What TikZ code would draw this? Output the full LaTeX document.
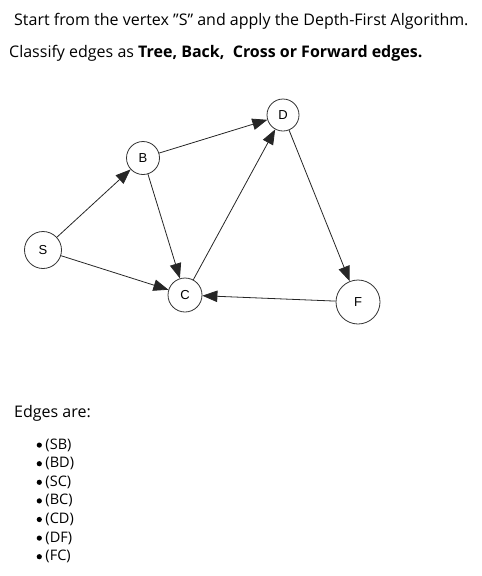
\documentclass[tikz,border=0pt]{standalone}
\usepackage{fontspec}
\setmainfont{Open Sans}
\newfontfamily\vxfont{Liberation Sans}
\usetikzlibrary{arrows.meta,positioning}
\tikzset{
  vertex/.style={circle,draw=black!80,line width=0.8pt,fill=white,inner sep=0pt,
                 font=\vxfont\fontsize{13}{14}\selectfont},
  edge/.style={-{Triangle[length=15pt,width=11.5pt]},line width=0.8pt,black!85},
  line/.style={anchor=base west,inner sep=0pt,font=\fontsize{16}{18}\selectfont},
  item/.style={anchor=base west,inner sep=0pt,font=\fontsize{14.5}{16}\selectfont},
}
\newcommand{\blt}{\raisebox{1.3pt}{\tikz\fill (0,0) circle (2.6pt);}\hspace{3.6pt}}

\begin{document}
\begin{tikzpicture}[x=1pt,y=1pt]
  \useasboundingbox (0,0) rectangle (482,-576);
  % question text
  \node[line] (q1) at (14,-25) {Start from the vertex ”S” and apply the Depth-First Algorithm.};
  \node[line] (q2) at (9,-57) {Classify edges as \textbf{Tree, Back,\ \ Cross or Forward edges.}};
  % the graph
  \node[vertex,minimum size=37pt] (S) at (43,-250) {S};
  \node[vertex,minimum size=33pt] (B) at (143,-158) {B};
  \node[vertex,minimum size=32pt] (D) at (283,-115) {D};
  \node[vertex,minimum size=34pt] (C) at (185,-295) {C};
  \node[vertex,minimum size=44pt] (F) at (358,-302) {F};
  \draw[edge](S)--(B);\draw[edge](S)--(C);
  \draw[edge](B)--(D);\draw[edge](B)--(C);
  \draw[edge](C)--(D);\draw[edge](D)--(F);
  \draw[edge](F)--(C);
  % list of edges
  \node[line] (hd) at (14,-417) {Edges are:};
  \node[item] (e1) at (36.5,-449) {\blt(SB)};
  \node[item] (e2) at (36.5,-467.6) {\blt(BD)};
  \node[item] (e3) at (36.5,-486.2) {\blt(SC)};
  \node[item] (e4) at (36.5,-504.8) {\blt(BC)};
  \node[item] (e5) at (36.5,-523.4) {\blt(CD)};
  \node[item] (e6) at (36.5,-542) {\blt(DF)};
  \node[item] (e7) at (36.5,-560.6) {\blt(FC)};
\end{tikzpicture}
\end{document}
